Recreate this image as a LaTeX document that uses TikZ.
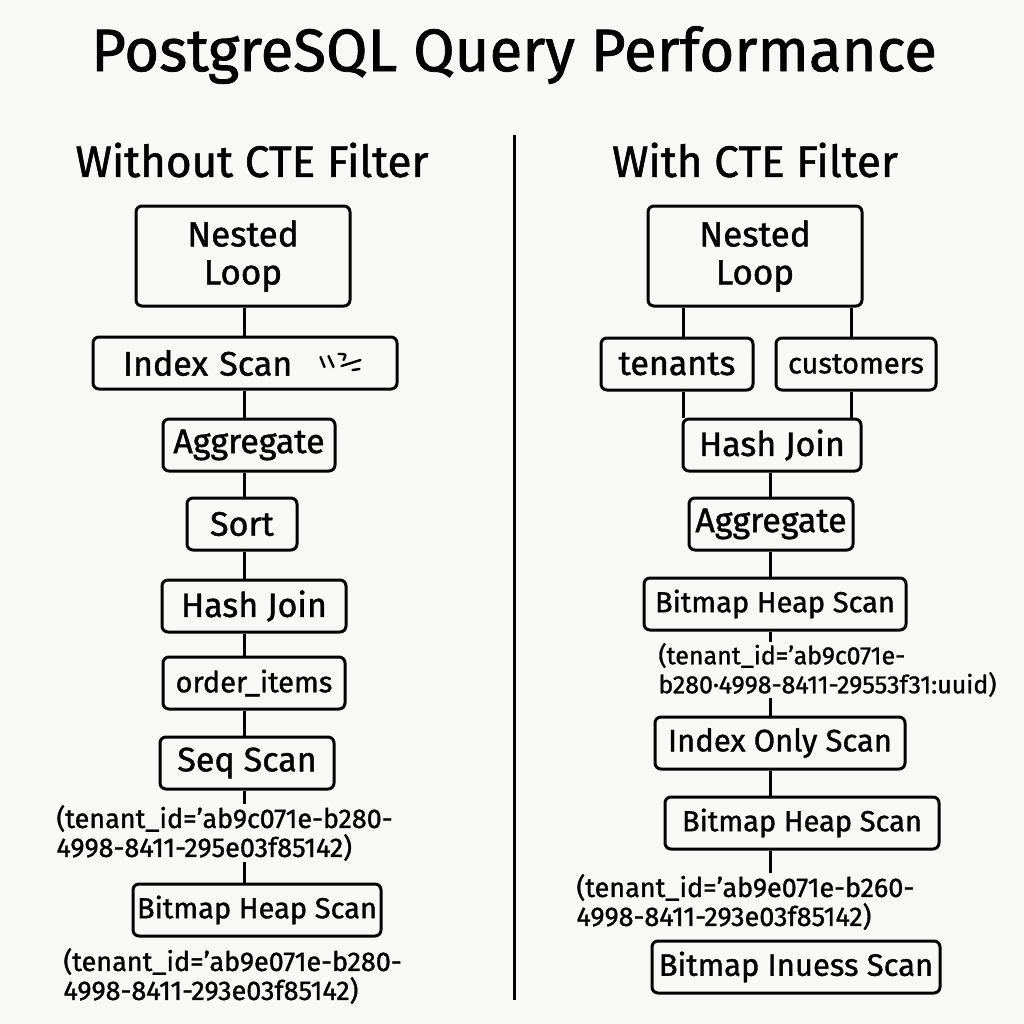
\documentclass[tikz,border=0pt]{standalone}
\usepackage{fontspec}
\setmainfont{Fira Sans}[FakeBold=1.2]
\usetikzlibrary{positioning,calc}
\definecolor{paper}{HTML}{F8F8F6}
\tikzset{
    plan-box/.style={
        rectangle,
        draw=black,
        rounded corners=3pt,
        line width=1.5pt,
        inner sep=0pt,
        minimum height=26pt,
        font=\fontsize{17}{19}\selectfont
    },
    long-box/.style={
        plan-box,
        font=\fontsize{14.5}{17}\selectfont
    },
    loop-box/.style={
        plan-box,
        align=center,
        minimum width=107pt,
        minimum height=50pt,
        font=\fontsize{17.5}{19}\selectfont
    },
    filter-text/.style={
        anchor=west,
        align=left,
        inner sep=0pt,
        font=\fontsize{13.5}{14.5}\selectfont
    },
    heading/.style={
        font=\fontsize{22}{24}\selectfont
    },
}

\begin{document}
\begin{tikzpicture}[x=0.5pt,y=-0.5pt,line width=1.5pt]

       \fill[paper] (0,0) rectangle (1024,1024);
       \useasboundingbox (0,0) rectangle (1024,1024);

       \node[font=\fontsize{30}{32}\selectfont] (title) at (514,55) {PostgreSQL Query Performance};
       \node[heading] (left-head) at (252,160) {Without CTE Filter};
       \node[heading] (right-head) at (755,160) {With CTE Filter};
       \coordinate (div-top) at (514,135);
       \coordinate (div-bot) at (514,1000);
       \draw (div-top) -- (div-bot);

       % Without CTE filter
       \node[loop-box] (l-loop) at (243,256) {Nested\\Loop};
       \node[plan-box,minimum width=152pt,text width=122pt,inner xsep=15pt,align=left] (l-iscan) at (245,363) {Index Scan};
       \node[plan-box,minimum width=86pt] (l-agg) at (249,445) {Aggregate};
       \node[plan-box,minimum width=55pt] (l-sort) at (242,524) {Sort};
       \node[plan-box,minimum width=92pt] (l-hash) at (254,606) {Hash Join};
       \node[long-box,minimum width=91pt] (l-items) at (254,683) {order\_items};
       \node[plan-box,minimum width=87pt] (l-seq) at (247,763) {Seq Scan};
       \node[filter-text] (l-filter1) at (55,833) {(tenant\_id='ab9c071e-b280-\\4998-8411-295e03f85142)};
       \node[long-box,minimum width=124pt] (l-bitmap) at (257,910) {Bitmap Heap Scan};
       \node[filter-text] (l-filter2) at (62,976) {(tenant\_id='ab9e071e-b280-\\4998-8411-293e03f85142)};

       \begin{scope}[shift={(l-iscan.east)},line width=1.2pt,line cap=round]
           \draw (-78,-6) -- (-74,4);
           \draw (-70,-7) -- (-65,4);
           \draw (-60,-9) .. controls (-52,-9) .. (-55,-3);
           \draw (-57,3) -- (-38,-3);
           \draw (-46,7) -- (-39,6);
       \end{scope}

       \coordinate (l-spine) at (244,0);
       \foreach \a/\b in {l-loop/l-iscan,l-iscan/l-agg,l-agg/l-sort,l-sort/l-hash,
                          l-hash/l-items,l-items/l-seq,l-seq/l-filter1,l-filter1/l-bitmap}
           \draw (l-spine |- \a.south) -- (l-spine |- \b.north);

       % With CTE filter
       \node[loop-box] (r-loop) at (755,256) {Nested\\Loop};
       \node[plan-box,minimum width=76pt] (r-tenants) at (677,364) {tenants};
       \node[long-box,minimum width=80pt] (r-customers) at (856,364) {customers};
       \node[plan-box,minimum width=89pt] (r-hash) at (772,445) {Hash Join};
       \node[plan-box,minimum width=82pt] (r-agg) at (771,524) {Aggregate};
       \node[long-box,minimum width=131pt] (r-bitmap1) at (775,604) {Bitmap Heap Scan};
       \node[filter-text,font=\fontsize{12.5}{14.5}\selectfont] (r-filter1) at (657,670) {(tenant\_id='ab9c071e-\\b280·4998-8411-29553f31:uuid)};
       \node[long-box,minimum width=125pt,font=\fontsize{15.5}{17}\selectfont] (r-ionly) at (780,743) {Index Only Scan};
       \node[long-box,minimum width=137pt] (r-bitmap2) at (802,823) {Bitmap Heap Scan};
       \node[filter-text] (r-filter2) at (575,902) {(tenant\_id='ab9e071e-b260-\\4998-8411-293e03f85142)};
       \node[long-box,minimum width=144pt,font=\fontsize{15.5}{17}\selectfont] (r-inuess) at (796,967) {Bitmap Inuess Scan};

       \coordinate (r-left) at (683,0);
       \coordinate (r-right) at (851,0);
       \draw (r-left |- r-loop.south) -- (r-left |- r-tenants.north);
       \draw (r-left |- r-tenants.south) -- (r-left |- r-hash.north);
       \draw (r-right |- r-loop.south) -- (r-right |- r-customers.north);
       \draw (r-right |- r-customers.south) -- (r-right |- r-hash.north);

       \coordinate (r-spine) at (770,0);
       \foreach \a/\b in {r-hash/r-agg,r-agg/r-bitmap1,r-bitmap1/r-filter1,
                          r-filter1/r-ionly,r-ionly/r-bitmap2,r-bitmap2/r-filter2}
           \draw (r-spine |- \a.south) -- (r-spine |- \b.north);

\end{tikzpicture}
\end{document}
